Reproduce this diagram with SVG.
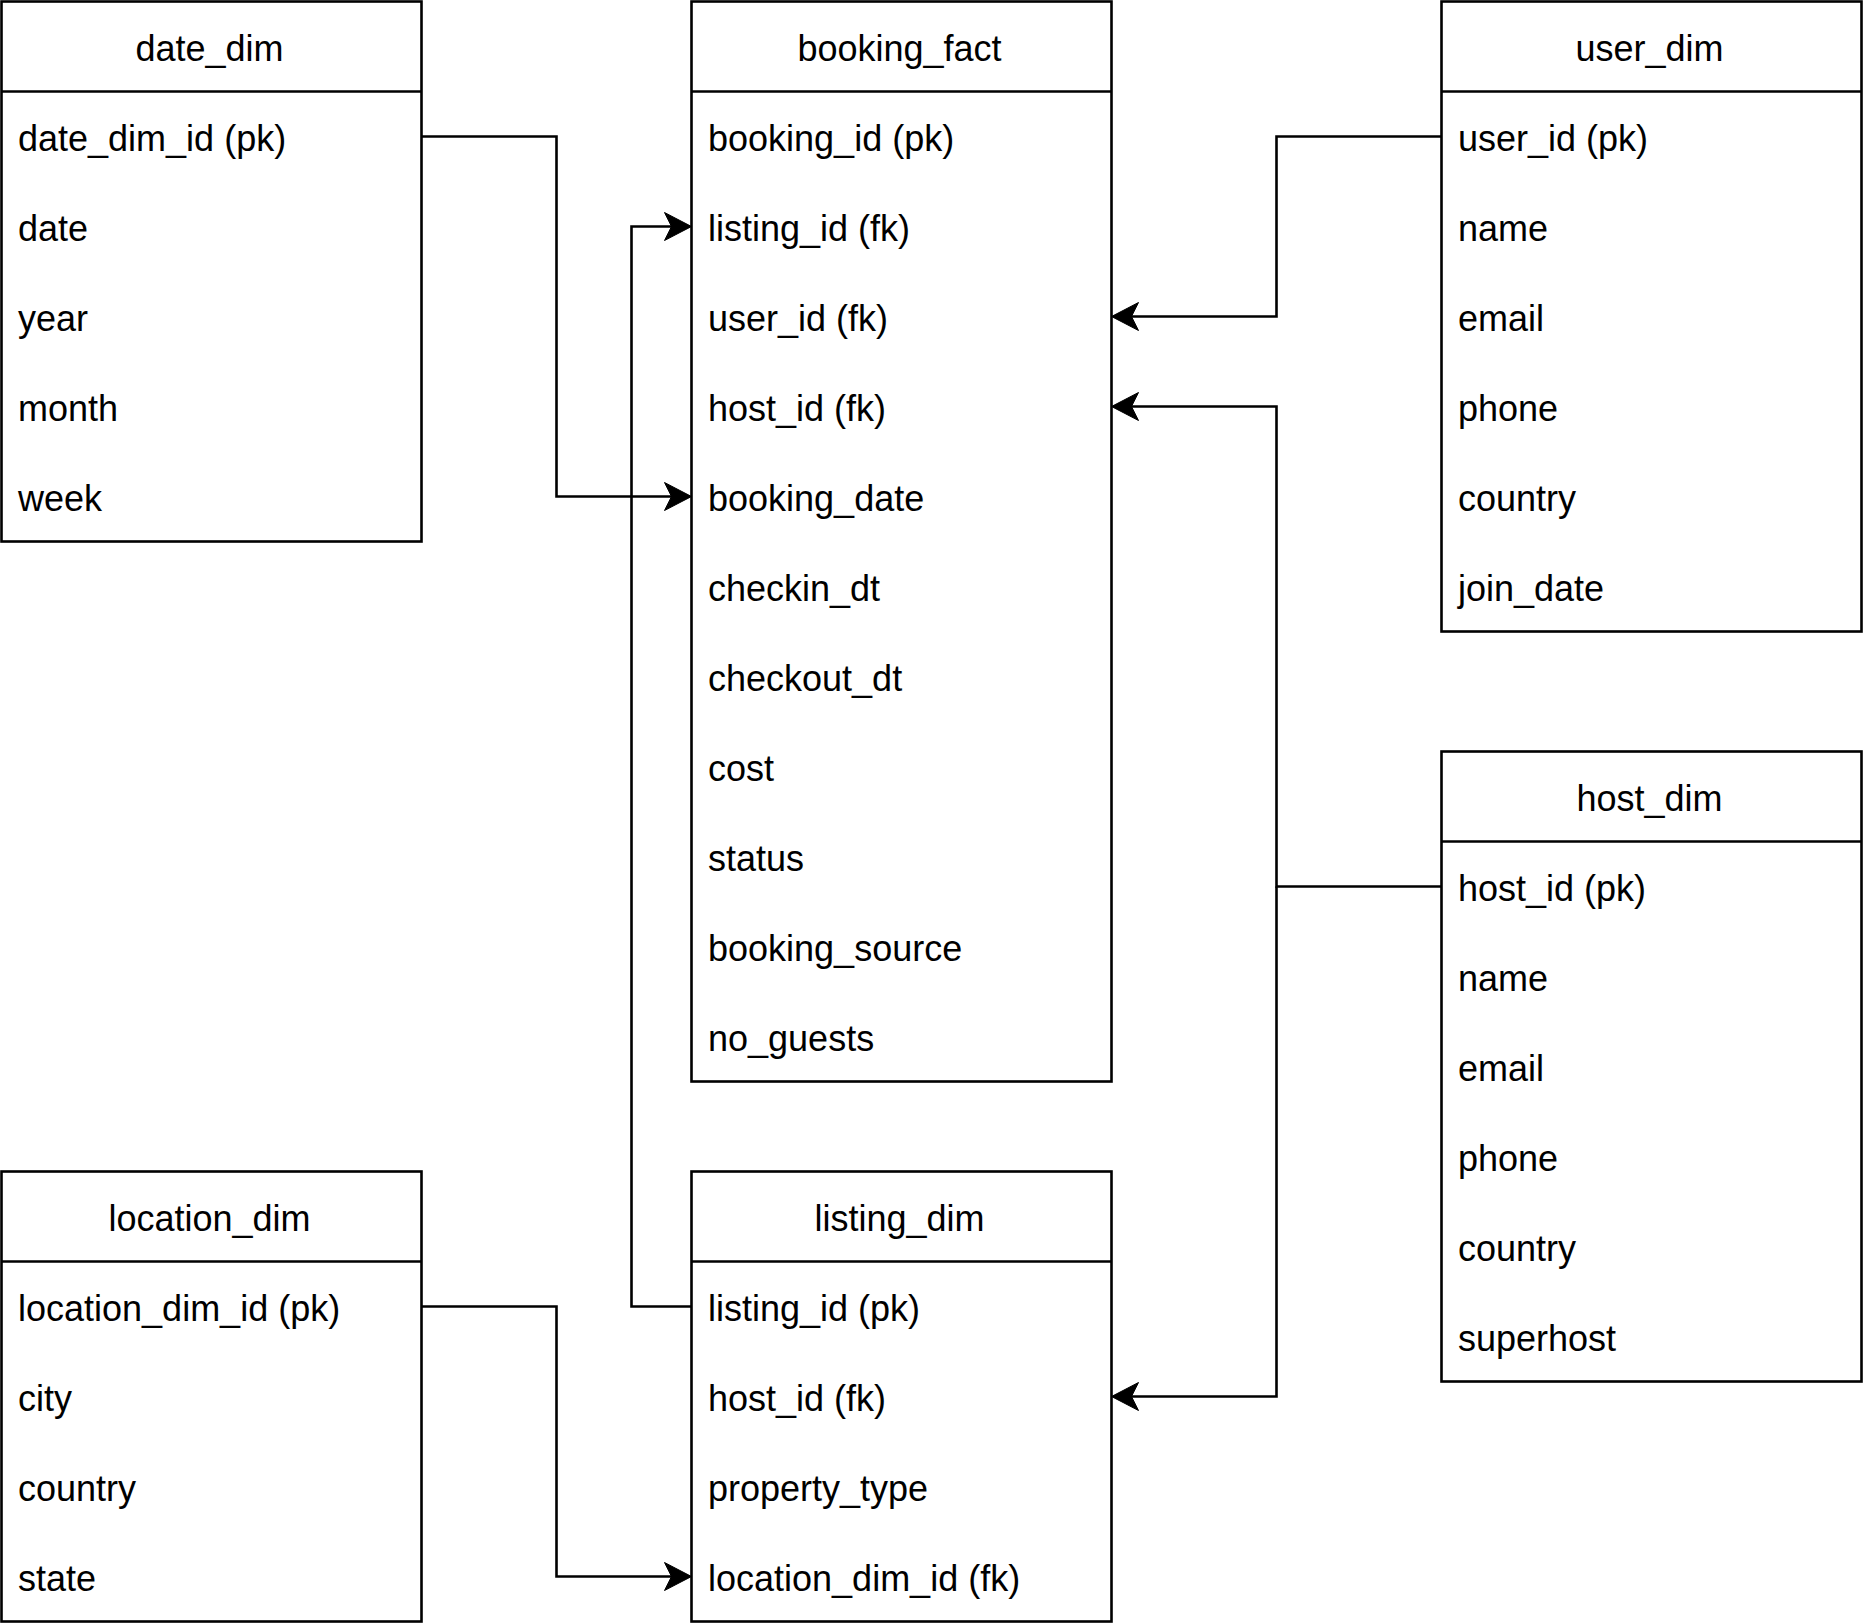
<svg xmlns="http://www.w3.org/2000/svg" width="1863" height="1623" viewBox="0 0 1863 1623">
<style>
.box{fill:#fff;stroke:#000;stroke-width:2.6}
.sep{stroke:#000;stroke-width:2.6}
.t{font-family:"Liberation Sans",Arial,sans-serif;font-size:36px;fill:#000}
.h{text-anchor:middle}
.c{fill:none;stroke:#000;stroke-width:2.6}
.ah{fill:#000;stroke:#000;stroke-width:1}
</style>
<rect width="1863" height="1623" fill="#fff"/>
<g id="connectors">
<polyline class="c" points="421.5,136.5 556.5,136.5 556.5,496.5 680,496.5"/>
<polyline class="c" points="691.5,1306.5 631.5,1306.5 631.5,226.5 680,226.5"/>
<polyline class="c" points="1441.5,136.5 1276.5,136.5 1276.5,316.5 1123,316.5"/>
<polyline class="c" points="1441.5,886.5 1276.5,886.5 1276.5,406.5 1123,406.5"/>
<polyline class="c" points="1276.5,886.5 1276.5,1396.5 1123,1396.5"/>
<polyline class="c" points="421.5,1306.5 556.5,1306.5 556.5,1576.5 680,1576.5"/>
<path class="ah" d="M691.5,496.5 L664.5,482.5 L671.5,496.5 L664.5,510.5 Z"/>
<path class="ah" d="M691.5,226.5 L664.5,212.5 L671.5,226.5 L664.5,240.5 Z"/>
<path class="ah" d="M1111.5,316.5 L1138.5,302.5 L1131.5,316.5 L1138.5,330.5 Z"/>
<path class="ah" d="M1111.5,406.5 L1138.5,392.5 L1131.5,406.5 L1138.5,420.5 Z"/>
<path class="ah" d="M1111.5,1396.5 L1138.5,1382.5 L1131.5,1396.5 L1138.5,1410.5 Z"/>
<path class="ah" d="M691.5,1576.5 L664.5,1562.5 L671.5,1576.5 L664.5,1590.5 Z"/>
</g>
<g id="date_dim">
<rect class="box" x="1.5" y="1.5" width="420" height="540"/>
<line class="sep" x1="1.5" y1="91.5" x2="421.5" y2="91.5"/>
<text class="t h" x="209.5" y="60.5">date_dim</text>
<text class="t" x="18" y="150.5">date_dim_id (pk)</text>
<text class="t" x="18" y="240.5">date</text>
<text class="t" x="18" y="330.5">year</text>
<text class="t" x="18" y="420.5">month</text>
<text class="t" x="18" y="510.5">week</text>
</g>
<g id="booking_fact">
<rect class="box" x="691.5" y="1.5" width="420" height="1080"/>
<line class="sep" x1="691.5" y1="91.5" x2="1111.5" y2="91.5"/>
<text class="t h" x="899.5" y="60.5">booking_fact</text>
<text class="t" x="708" y="150.5">booking_id (pk)</text>
<text class="t" x="708" y="240.5">listing_id (fk)</text>
<text class="t" x="708" y="330.5">user_id (fk)</text>
<text class="t" x="708" y="420.5">host_id (fk)</text>
<text class="t" x="708" y="510.5">booking_date</text>
<text class="t" x="708" y="600.5">checkin_dt</text>
<text class="t" x="708" y="690.5">checkout_dt</text>
<text class="t" x="708" y="780.5">cost</text>
<text class="t" x="708" y="870.5">status</text>
<text class="t" x="708" y="960.5">booking_source</text>
<text class="t" x="708" y="1050.5">no_guests</text>
</g>
<g id="user_dim">
<rect class="box" x="1441.5" y="1.5" width="420" height="630"/>
<line class="sep" x1="1441.5" y1="91.5" x2="1861.5" y2="91.5"/>
<text class="t h" x="1649.5" y="60.5">user_dim</text>
<text class="t" x="1458" y="150.5">user_id (pk)</text>
<text class="t" x="1458" y="240.5">name</text>
<text class="t" x="1458" y="330.5">email</text>
<text class="t" x="1458" y="420.5">phone</text>
<text class="t" x="1458" y="510.5">country</text>
<text class="t" x="1458" y="600.5">join_date</text>
</g>
<g id="host_dim">
<rect class="box" x="1441.5" y="751.5" width="420" height="630"/>
<line class="sep" x1="1441.5" y1="841.5" x2="1861.5" y2="841.5"/>
<text class="t h" x="1649.5" y="810.5">host_dim</text>
<text class="t" x="1458" y="900.5">host_id (pk)</text>
<text class="t" x="1458" y="990.5">name</text>
<text class="t" x="1458" y="1080.5">email</text>
<text class="t" x="1458" y="1170.5">phone</text>
<text class="t" x="1458" y="1260.5">country</text>
<text class="t" x="1458" y="1350.5">superhost</text>
</g>
<g id="location_dim">
<rect class="box" x="1.5" y="1171.5" width="420" height="450"/>
<line class="sep" x1="1.5" y1="1261.5" x2="421.5" y2="1261.5"/>
<text class="t h" x="209.5" y="1230.5">location_dim</text>
<text class="t" x="18" y="1320.5">location_dim_id (pk)</text>
<text class="t" x="18" y="1410.5">city</text>
<text class="t" x="18" y="1500.5">country</text>
<text class="t" x="18" y="1590.5">state</text>
</g>
<g id="listing_dim">
<rect class="box" x="691.5" y="1171.5" width="420" height="450"/>
<line class="sep" x1="691.5" y1="1261.5" x2="1111.5" y2="1261.5"/>
<text class="t h" x="899.5" y="1230.5">listing_dim</text>
<text class="t" x="708" y="1320.5">listing_id (pk)</text>
<text class="t" x="708" y="1410.5">host_id (fk)</text>
<text class="t" x="708" y="1500.5">property_type</text>
<text class="t" x="708" y="1590.5">location_dim_id (fk)</text>
</g>
</svg>
